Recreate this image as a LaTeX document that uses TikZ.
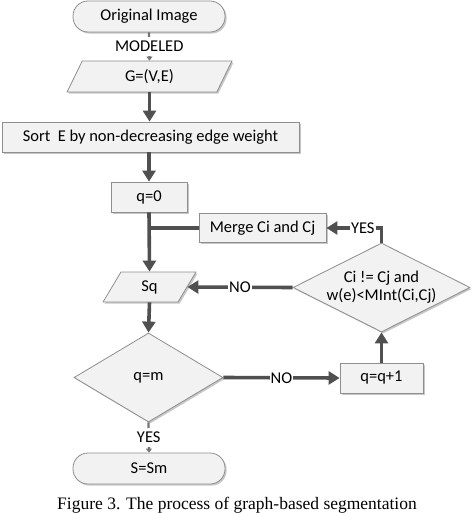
\documentclass[tikz,border=0pt]{standalone}
\usepackage{fontspec}
\setmainfont{Carlito}
\newfontfamily\capfont{Liberation Serif}
\usetikzlibrary{shapes.geometric,arrows.meta,shadows,calc}
\definecolor{boxfill}{HTML}{F2F2F2}
\definecolor{boxline}{HTML}{8E8E8E}
\definecolor{arrcol}{HTML}{505050}
\tikzset{
  base/.style={draw=boxline,fill=boxfill,line width=0.8pt,font=\fontsize{16.5}{18}\selectfont,inner sep=0pt,
    drop shadow={shadow xshift=1.6pt,shadow yshift=-1.6pt,fill=black!22,opacity=1}},
  proc/.style={base,rectangle},
  term/.style={base,rectangle,rounded corners=15pt},
  io/.style={base,trapezium,trapezium left angle=69,trapezium right angle=111,trapezium stretches=true},
  dec/.style={base,diamond,aspect=2},
  arr/.style={draw=arrcol,line width=3.6pt,-{Triangle[length=11pt,width=13pt]}},
  ln/.style={draw=arrcol,line width=3.6pt},
  thin/.style={draw=arrcol!80,line width=2.2pt,-{Triangle[length=4pt,width=6pt]}},
  lbl/.style={fill=white,inner sep=1.2pt,font=\fontsize{16.5}{18}\selectfont,text=black}
}
\begin{document}
\begin{tikzpicture}[x=1pt,y=-1pt]
\useasboundingbox (0,0) rectangle (474,513);
\node[term,minimum width=152pt,minimum height=31pt] (orig) at (149,16.5) {Original Image};
\node[io,minimum width=165pt,minimum height=31pt] (g) at (149.5,76.5) {G=(V,E)};
\node[proc,minimum width=297pt,minimum height=30pt] (sort) at (150.5,137) {Sort\ \ E by non-decreasing edge weight};
\node[proc,minimum width=76pt,minimum height=30pt] (q0) at (149,197) {q=0};
\node[proc,minimum width=127pt,minimum height=29pt] (merge) at (262.5,228) {Merge Ci and Cj};
\node[io,minimum width=93pt,minimum height=30pt] (sq) at (149.5,287) {Sq};
\node[dec,minimum width=177pt,minimum height=89pt,align=center] (cond) at (381.5,287.5) {Ci != Cj and\\w(e)<MInt(Ci,Cj)};
\node[dec,minimum width=149pt,minimum height=89pt] (qm) at (148.5,377.5) {q=m};
\node[proc,minimum width=83pt,minimum height=30pt] (inc) at (381.5,378) {q=q+1};
\node[term,minimum width=152pt,minimum height=31pt] (ssm) at (149,468.5) {S=Sm};
\node[anchor=base,font=\capfont\fontsize{17.5}{20}\selectfont] (cap) at (237,509) {Figure 3. The process of graph-based segmentation};
\coordinate (j) at (q0.south |- merge.west);
\draw[thin] (orig.south) -- node[lbl,inner ysep=4pt]{MODELED} (g.north);
\draw[arr] (g.south) -- (sort.north -| g.south);
\draw[arr] (sort.south -| q0.south) -- (q0.north);
\draw[arr] (q0.south) -- (sq.north);
\draw[ln] (merge.west) -- (j);
\draw[arr] (cond.north) |- node[lbl,pos=0.67]{YES} (merge.east);
\draw[arr] (cond.west) -- node[lbl]{NO} (sq.east);
\draw[arr] (sq.south) -- (qm.north);
\draw[arr] (qm.east) -- node[lbl]{NO} (inc.west);
\draw[arr] (inc.north) -- (cond.south);
\draw[thin] (qm.south) -- node[lbl,inner ysep=4pt]{YES} (ssm.north);
\end{tikzpicture}
\end{document}
